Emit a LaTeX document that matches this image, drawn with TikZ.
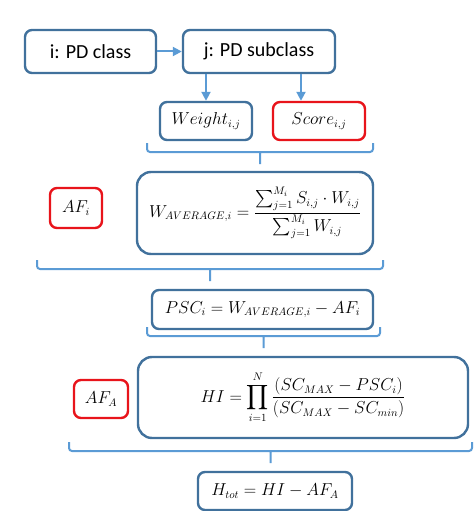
\documentclass[tikz,border=0pt]{standalone}
\usepackage{amsmath}
\usepackage{fontspec}
\setmainfont{Carlito}
\usetikzlibrary{arrows.meta}
\definecolor{BoxBlue}{HTML}{41719C}
\definecolor{LineBlue}{HTML}{5B9BD5}
\definecolor{BoxRed}{HTML}{E8141B}

\begin{document}
\begin{tikzpicture}[x=1pt,y=-1pt,
    box/.style={draw=BoxBlue,line width=2.4pt,rounded corners=7pt,fill=white,inner sep=0pt},
    redbox/.style={box,draw=BoxRed},
    arr/.style={-{Triangle[length=9pt,width=9pt]},LineBlue,line width=2pt},
    brc/.style={LineBlue,line width=2pt,rounded corners=3pt},
    txt/.style={font=\fontsize{20}{24}\selectfont},
    mth/.style={font=\fontsize{16}{19}\selectfont}]
  \useasboundingbox (0,0) rectangle (474,511);

  % classes
  \node[box,txt,minimum width=131pt,minimum height=43pt] (cls) at (90.5,51.5) {i: PD class};
  \node[box,txt,minimum width=152pt,minimum height=43pt] (sub) at (259,51.5) {j: PD subclass};
  \node[box,mth,minimum width=92pt,minimum height=38pt] (wgt) at (206,121) {$Weight_{i,j}$};
  \node[redbox,mth,minimum width=92pt,minimum height=38pt] (scr) at (319,121) {$Score_{i,j}$};
  \draw[arr] (cls) -- (sub);
  \draw[arr] (sub.south -| wgt) -- (wgt.north);
  \draw[arr] ([xshift=42pt]sub.south) -- ([xshift=-18pt]scr.north);

  % weighted average
  \node[redbox,mth,minimum width=52pt,minimum height=40pt] (afi) at (76,208) {$AF_i$};
  \node[box,mth,rounded corners=14pt,minimum width=236pt,minimum height=82pt] (wavg) at (255,213)
    {$W_{AVERAGE,i}=\dfrac{\textstyle\sum_{j=1}^{M_i} S_{i,j}\cdot W_{i,j}}{\textstyle\sum_{j=1}^{M_i} W_{i,j}}$};

  % partial score
  \node[box,mth,minimum width=221pt,minimum height=39pt] (psc) at (262.5,309.5)
    {$PSC_i=W_{AVERAGE,i}-AF_i$};

  % health index
  \node[redbox,mth,minimum width=54pt,minimum height=38pt] (afa) at (101,399) {$AF_A$};
  \node[box,mth,rounded corners=14pt,minimum width=330pt,minimum height=81pt] (hi) at (303,397.5)
    {$HI=\displaystyle\prod_{i=1}^{N}\frac{(SC_{MAX}-PSC_i)}{(SC_{MAX}-SC_{min})}$};

  \node[box,mth,minimum width=154pt,minimum height=38pt] (htot) at (275,491)
    {$H_{tot}=HI-AF_A$};

  % brackets
  \foreach \xa/\xb/\y in {147/373/143, 37/383/260, 147/380/327, 69/472/442}
    \draw[brc] (\xa,\y) -- (\xa,\y+9) -- (\xb,\y+9) -- (\xb,\y)
      ({(\xa+\xb)/2},\y+9) -- ({(\xa+\xb)/2},\y+21);
\end{tikzpicture}
\end{document}
